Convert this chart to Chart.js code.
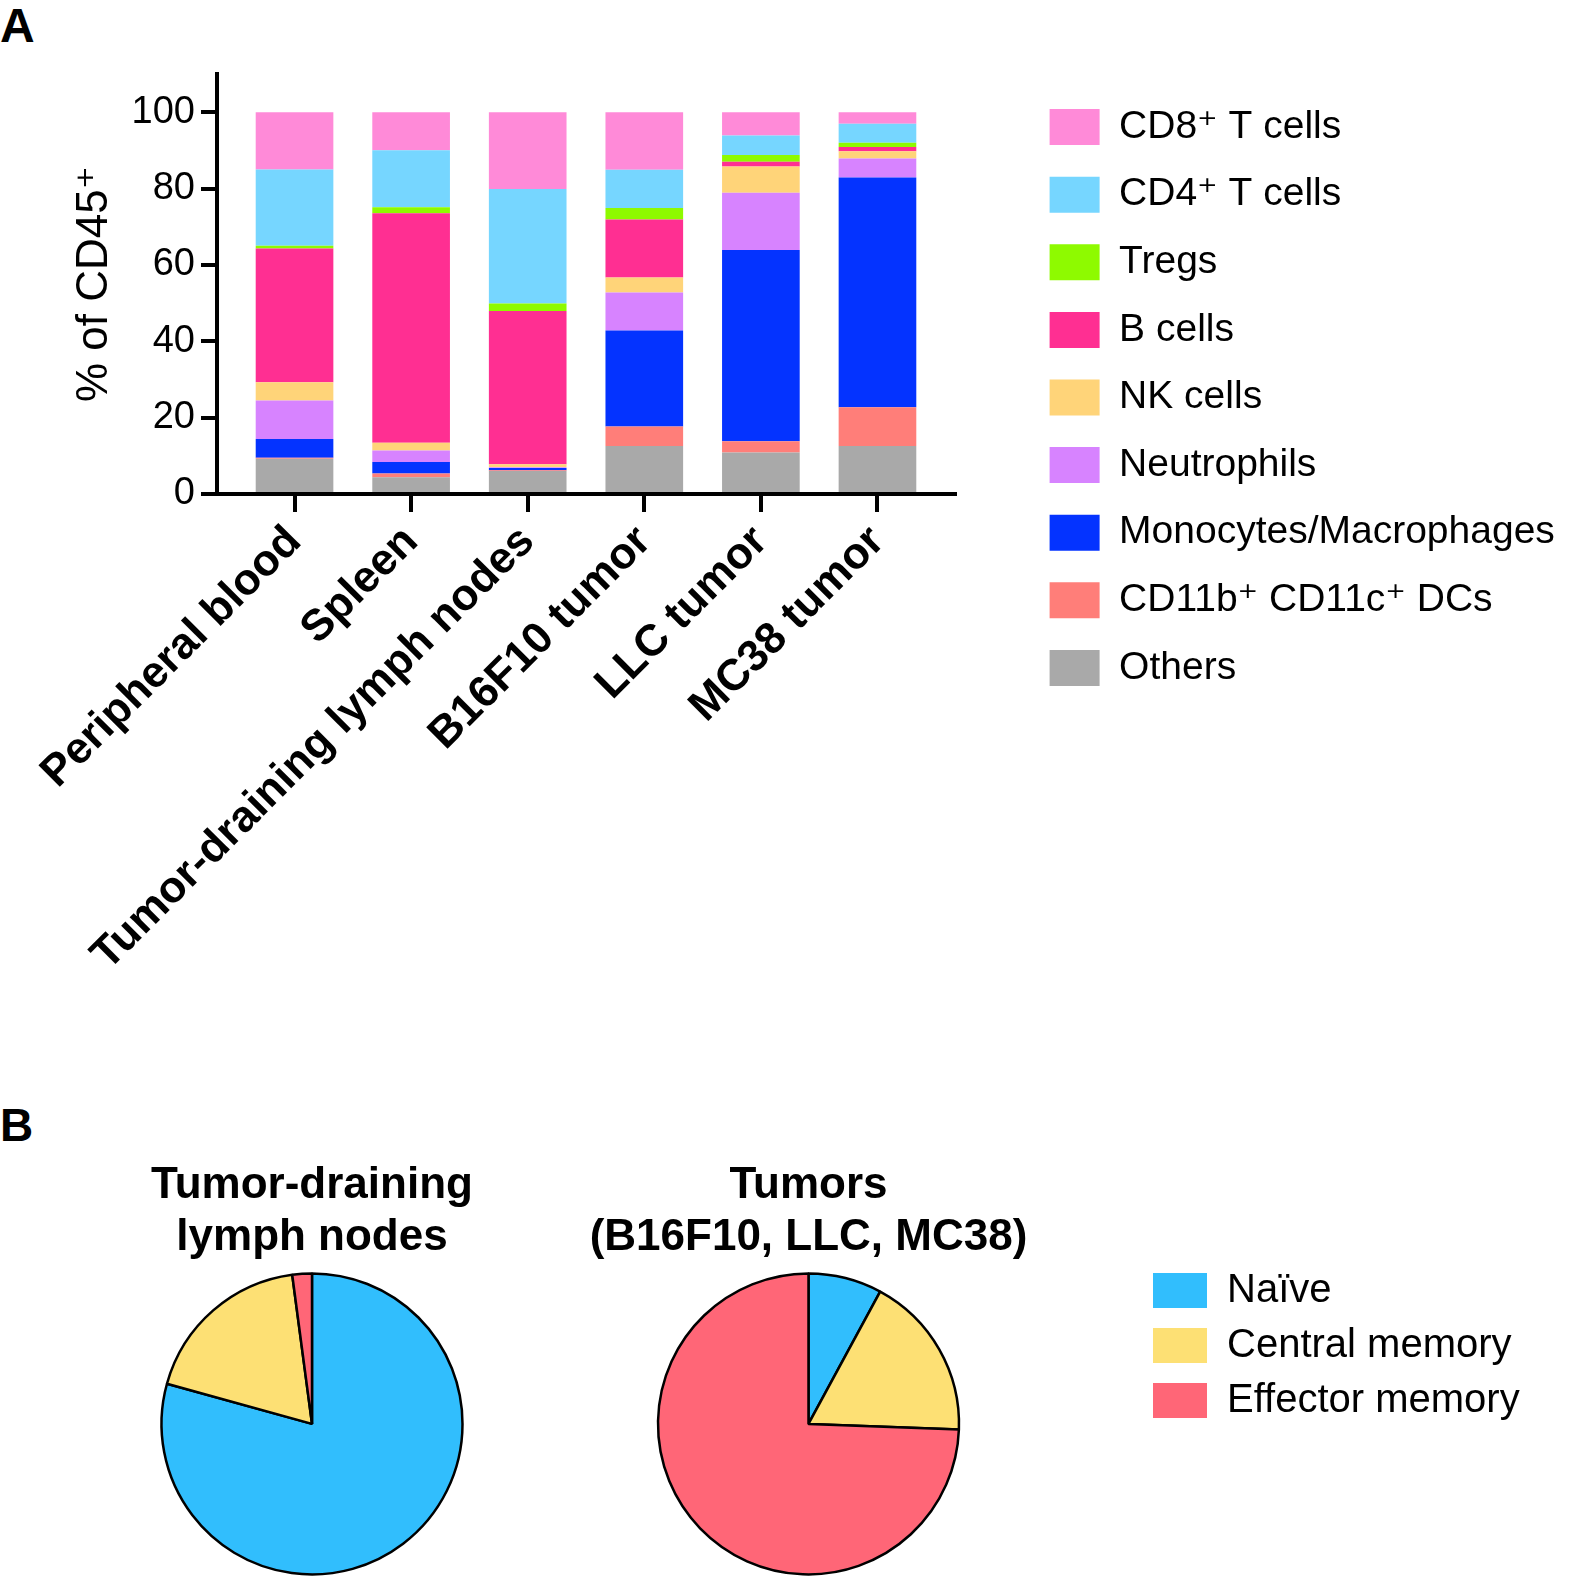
<!DOCTYPE html>
<html>
<head>
<meta charset="utf-8">
<script src="https://cdn.jsdelivr.net/npm/chart.js@4.4.0/dist/chart.umd.min.js"></script>
<style>
  body { margin: 0; background: #fff; }
  #page { position: relative; width: 1580px; height: 1580px; overflow: hidden; }
  canvas { position: absolute; display: block; }
  .panel { position: absolute; left: 0; font-family: 'Liberation Sans', Arial, sans-serif; font-weight: bold; line-height: 1; }
</style>
</head>
<body>
<div id="page">
  <div class="panel" style="top:2px;font-size:48px;">A</div>
  <div class="panel" style="top:1102px;font-size:46px;">B</div>
  <canvas id="cells" width="1580" height="1000" style="left:0;top:0;"></canvas>
  <canvas id="pie-ln" width="400" height="469" style="left:112px;top:1111px;"></canvas>
  <canvas id="pie-tumor" width="1101" height="469" style="left:479px;top:1111px;"></canvas>
</div>
<script>
const categories = ['Peripheral blood', 'Spleen', 'Tumor-draining lymph nodes', 'B16F10 tumor', 'LLC tumor', 'MC38 tumor'];

// stacked from the bottom up
const others      = [9.2, 4.4, 6.0, 12.6, 10.9, 12.6];
const dcs         = [0.3, 1.0, 0.2, 5.1, 2.9, 10.1];
const monocytes   = [4.9, 3.0, 0.6, 25.1, 50.1, 60.2];
const neutrophils = [10.1, 3.0, 0.2, 10.0, 15.0, 5.0];
const nkCells     = [4.8, 2.0, 0.8, 3.9, 6.9, 1.9];
const bCells      = [35.0, 60.1, 40.1, 15.2, 1.2, 1.1];
const tregs       = [0.7, 1.6, 2.0, 3.0, 1.8, 1.1];
const cd4         = [20.0, 14.9, 30.0, 10.0, 5.1, 5.0];
const cd8         = [15.0, 10.0, 20.1, 15.1, 6.1, 3.0];

const yTicks = [0, 20, 40, 60, 80, 100];

const memLabels = ['Naïve', 'Central memory', 'Effector memory'];
const lymphNodeMem = [79.3, 18.6, 2.1];
const tumorMem = [7.9, 17.7, 74.4];

const memColors = ['#31BEFD', '#FDE074', '#FF6677'];

Chart.defaults.font.family = "'Liberation Sans', Arial, 'DejaVu Sans', sans-serif";
Chart.defaults.color = '#000';
Chart.defaults.animation = false;

// legend gets a fixed width so its left edge does not depend on text measuring
function legendWidth(w) {
  return {
    id: 'legendWidth',
    beforeLayout(chart) {
      const legend = chart.legend;
      if (legend && !legend.widthFixed) {
        const fit = legend.fit;
        legend.fit = function () { fit.call(this); this.width = w; };
        legend.widthFixed = true;
      }
    }
  };
}

function series(label, values, color) {
  return {
    label: label,
    data: values.map((v, i) => ({x: i, y: v})),
    backgroundColor: color,
    borderWidth: 0,
    categoryPercentage: 1,
    barPercentage: 0.666
  };
}

new Chart(document.getElementById('cells'), {
  type: 'bar',
  data: {
    datasets: [
      series('Others', others, '#A9A9A9'),
      series('CD11b\u207A CD11c\u207A DCs', dcs, '#FF7E79'),
      series('Monocytes/Macrophages', monocytes, '#0433FF'),
      series('Neutrophils', neutrophils, '#D783FF'),
      series('NK cells', nkCells, '#FFD479'),
      series('B cells', bCells, '#FF2F92'),
      series('Tregs', tregs, '#8EFA00'),
      series('CD4\u207A T cells', cd4, '#76D6FF'),
      series('CD8\u207A T cells', cd8, '#FF8AD8')
    ]
  },
  options: {
    responsive: false,
    layout: { padding: { top: 74, left: 0, right: 0, bottom: 0 } },
    scales: {
      x: {
        type: 'linear',
        stacked: true,
        offset: false,
        min: -0.665,
        max: 5.665,
        afterFit: s => { s.height = 506; },
        afterBuildTicks: s => { s.ticks = categories.map((c, i) => ({value: i})); },
        grid: { offset: false, drawOnChartArea: false, color: '#000', lineWidth: 4, tickLength: 18 },
        border: { display: true, color: '#000', width: 4 },
        ticks: {
          autoSkip: false,
          minRotation: 45,
          maxRotation: 45,
          padding: 4,
          font: { size: 44, weight: 'bold' },
          callback: v => categories[v]
        }
      },
      y: {
        stacked: true,
        min: 0,
        max: 110,
        afterFit: s => { s.width = 217; },
        afterBuildTicks: s => { s.ticks = yTicks.map(v => ({value: v})); },
        grid: { drawOnChartArea: false, color: '#000', lineWidth: 4, tickLength: 16 },
        border: { display: true, color: '#000', width: 4 },
        ticks: { padding: 6, font: { size: 38 } },
        title: {
          display: true,
          text: '% of CD45\u207A',
          font: { size: 44 },
          padding: { top: 68, bottom: 0 }
        }
      },
      gap: {
        type: 'linear',
        position: 'right',
        afterFit: s => { s.width = 66; },
        grid: { display: false },
        border: { display: false },
        ticks: { display: false }
      }
    },
    plugins: {
      legend: {
        position: 'right',
        align: 'start',
        reverse: true,
        title: { display: true, text: '', font: { size: 5, lineHeight: 1 }, padding: 0 },
        labels: { boxWidth: 50, boxHeight: 36, padding: 28.6, font: { size: 39 } }
      },
      tooltip: { enabled: false }
    }
  },
  plugins: [legendWidth(559)]
});

function pieOptions(title, showLegend) {
  return {
    responsive: false,
    radius: 150.5,
    plugins: {
      title: {
        display: true,
        fullSize: false,
        text: title,
        font: { size: 44, weight: 'bold', lineHeight: 1.18 },
        padding: { top: 49, bottom: 4 }
      },
      legend: {
        display: showLegend,
        position: 'right',
        align: 'center',
        labels: {
          boxWidth: 54,
          boxHeight: 35,
          padding: 15,
          font: { size: 40 },
          generateLabels: chart => Chart.overrides.pie.plugins.legend.labels.generateLabels(chart)
            .map(item => Object.assign(item, { lineWidth: 0, strokeStyle: item.fillStyle }))
        }
      },
      tooltip: { enabled: false }
    }
  };
}

function memData(values) {
  return {
    labels: memLabels,
    datasets: [{
      data: values,
      backgroundColor: memColors,
      borderColor: '#000',
      borderWidth: 2.5
    }]
  };
}

new Chart(document.getElementById('pie-ln'), {
  type: 'pie',
  data: memData(lymphNodeMem),
  options: pieOptions(['Tumor-draining', 'lymph nodes'], false)
});

new Chart(document.getElementById('pie-tumor'), {
  type: 'pie',
  data: memData(tumorMem),
  options: pieOptions(['Tumors', '(B16F10, LLC, MC38)'], true),
  plugins: [legendWidth(442)]
});
</script>
</body>
</html>
